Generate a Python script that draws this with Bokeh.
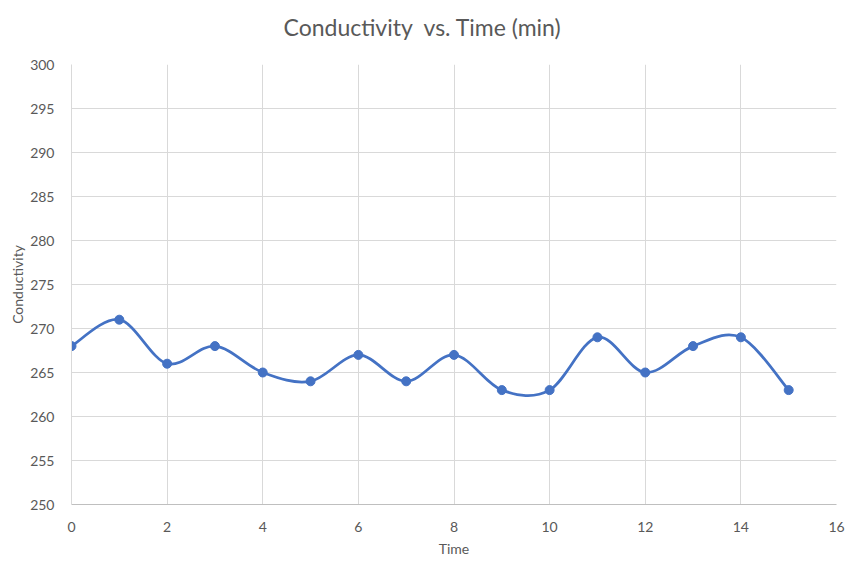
from bokeh.plotting import figure
from bokeh.models import Range1d, FixedTicker, Title
from bokeh.embed import file_html
from bokeh.resources import INLINE

# Data
time = [0, 1, 2, 3, 4, 5, 6, 7, 8, 9, 10, 11, 12, 13, 14, 15]
conductivity = [268, 271, 266, 268, 265, 264, 267, 264, 267, 263, 263, 269, 265, 268, 269, 263]
x_ticks = [0, 2, 4, 6, 8, 10, 12, 14, 16]
y_ticks = [250, 255, 260, 265, 270, 275, 280, 285, 290, 295, 300]
title_text = "Conductivity\u00a0 vs. Time (min)"

BLUE = "#4472C4"
TXT = "#595959"
FONT = "Lato"

p = figure(width=857, height=564, output_backend="svg", toolbar_location=None,
           x_range=Range1d(0, 16), y_range=Range1d(250, 300),
           min_border_left=71, min_border_right=21, min_border_top=64, min_border_bottom=60)
p.outline_line_color = None
p.title = None

# spacer next to the plot area, then the title above it
p.add_layout(Title(text="\u00a0", text_font_size="1px", standoff=21), "above")
p.add_layout(Title(text=title_text, align="left", text_font=FONT,
                   text_font_size="23px", text_color=TXT, text_font_style="normal",
                   offset=212, standoff=0), "above")

# Smoothed line (Catmull-Rom style Bezier segments through data points)
n = len(time)
x0, y0, x1, y1, cx0, cy0, cx1, cy1 = [], [], [], [], [], [], [], []
for i in range(n - 1):
    pm = i - 1 if i > 0 else i
    pp = i + 2 if i + 2 < n else i + 1
    x0.append(time[i]); y0.append(conductivity[i])
    x1.append(time[i + 1]); y1.append(conductivity[i + 1])
    cx0.append(time[i] + (time[i + 1] - time[pm]) / 6)
    cy0.append(conductivity[i] + (conductivity[i + 1] - conductivity[pm]) / 6)
    cx1.append(time[i + 1] - (time[pp] - time[i]) / 6)
    cy1.append(conductivity[i + 1] - (conductivity[pp] - conductivity[i]) / 6)
p.bezier(x0=x0, y0=y0, x1=x1, y1=y1, cx0=cx0, cy0=cy0, cx1=cx1, cy1=cy1,
         line_color=BLUE, line_width=2.75)
p.scatter(time, conductivity, size=9, fill_color=BLUE, line_color=BLUE)

for ax in (p.xaxis, p.yaxis):
    ax.major_tick_line_color = None
    ax.minor_tick_line_color = None
    ax.major_label_text_font = FONT
    ax.major_label_text_font_size = "14px"
    ax.major_label_text_color = TXT
    ax.axis_label_text_font = FONT
    ax.axis_label_text_font_size = "14px"
    ax.axis_label_text_color = TXT
    ax.axis_label_text_font_style = "normal"

p.xaxis.ticker = FixedTicker(ticks=x_ticks)
p.yaxis.ticker = FixedTicker(ticks=y_ticks)
p.xaxis.axis_label = "Time"
p.yaxis.axis_label = "Conductivity"
p.xaxis.axis_line_color = "#bfbfbf"
p.yaxis.axis_line_color = "#d9d9d9"
p.xaxis.major_label_standoff = 11
p.yaxis.major_label_standoff = 11
p.xaxis.axis_label_standoff = 5
p.yaxis.axis_label_standoff = 1

p.xgrid.ticker = FixedTicker(ticks=x_ticks)
p.ygrid.ticker = FixedTicker(ticks=y_ticks)
p.grid.grid_line_color = "#d9d9d9"
p.grid.grid_line_width = 1

open("out.html", "w").write(file_html(p, INLINE))
